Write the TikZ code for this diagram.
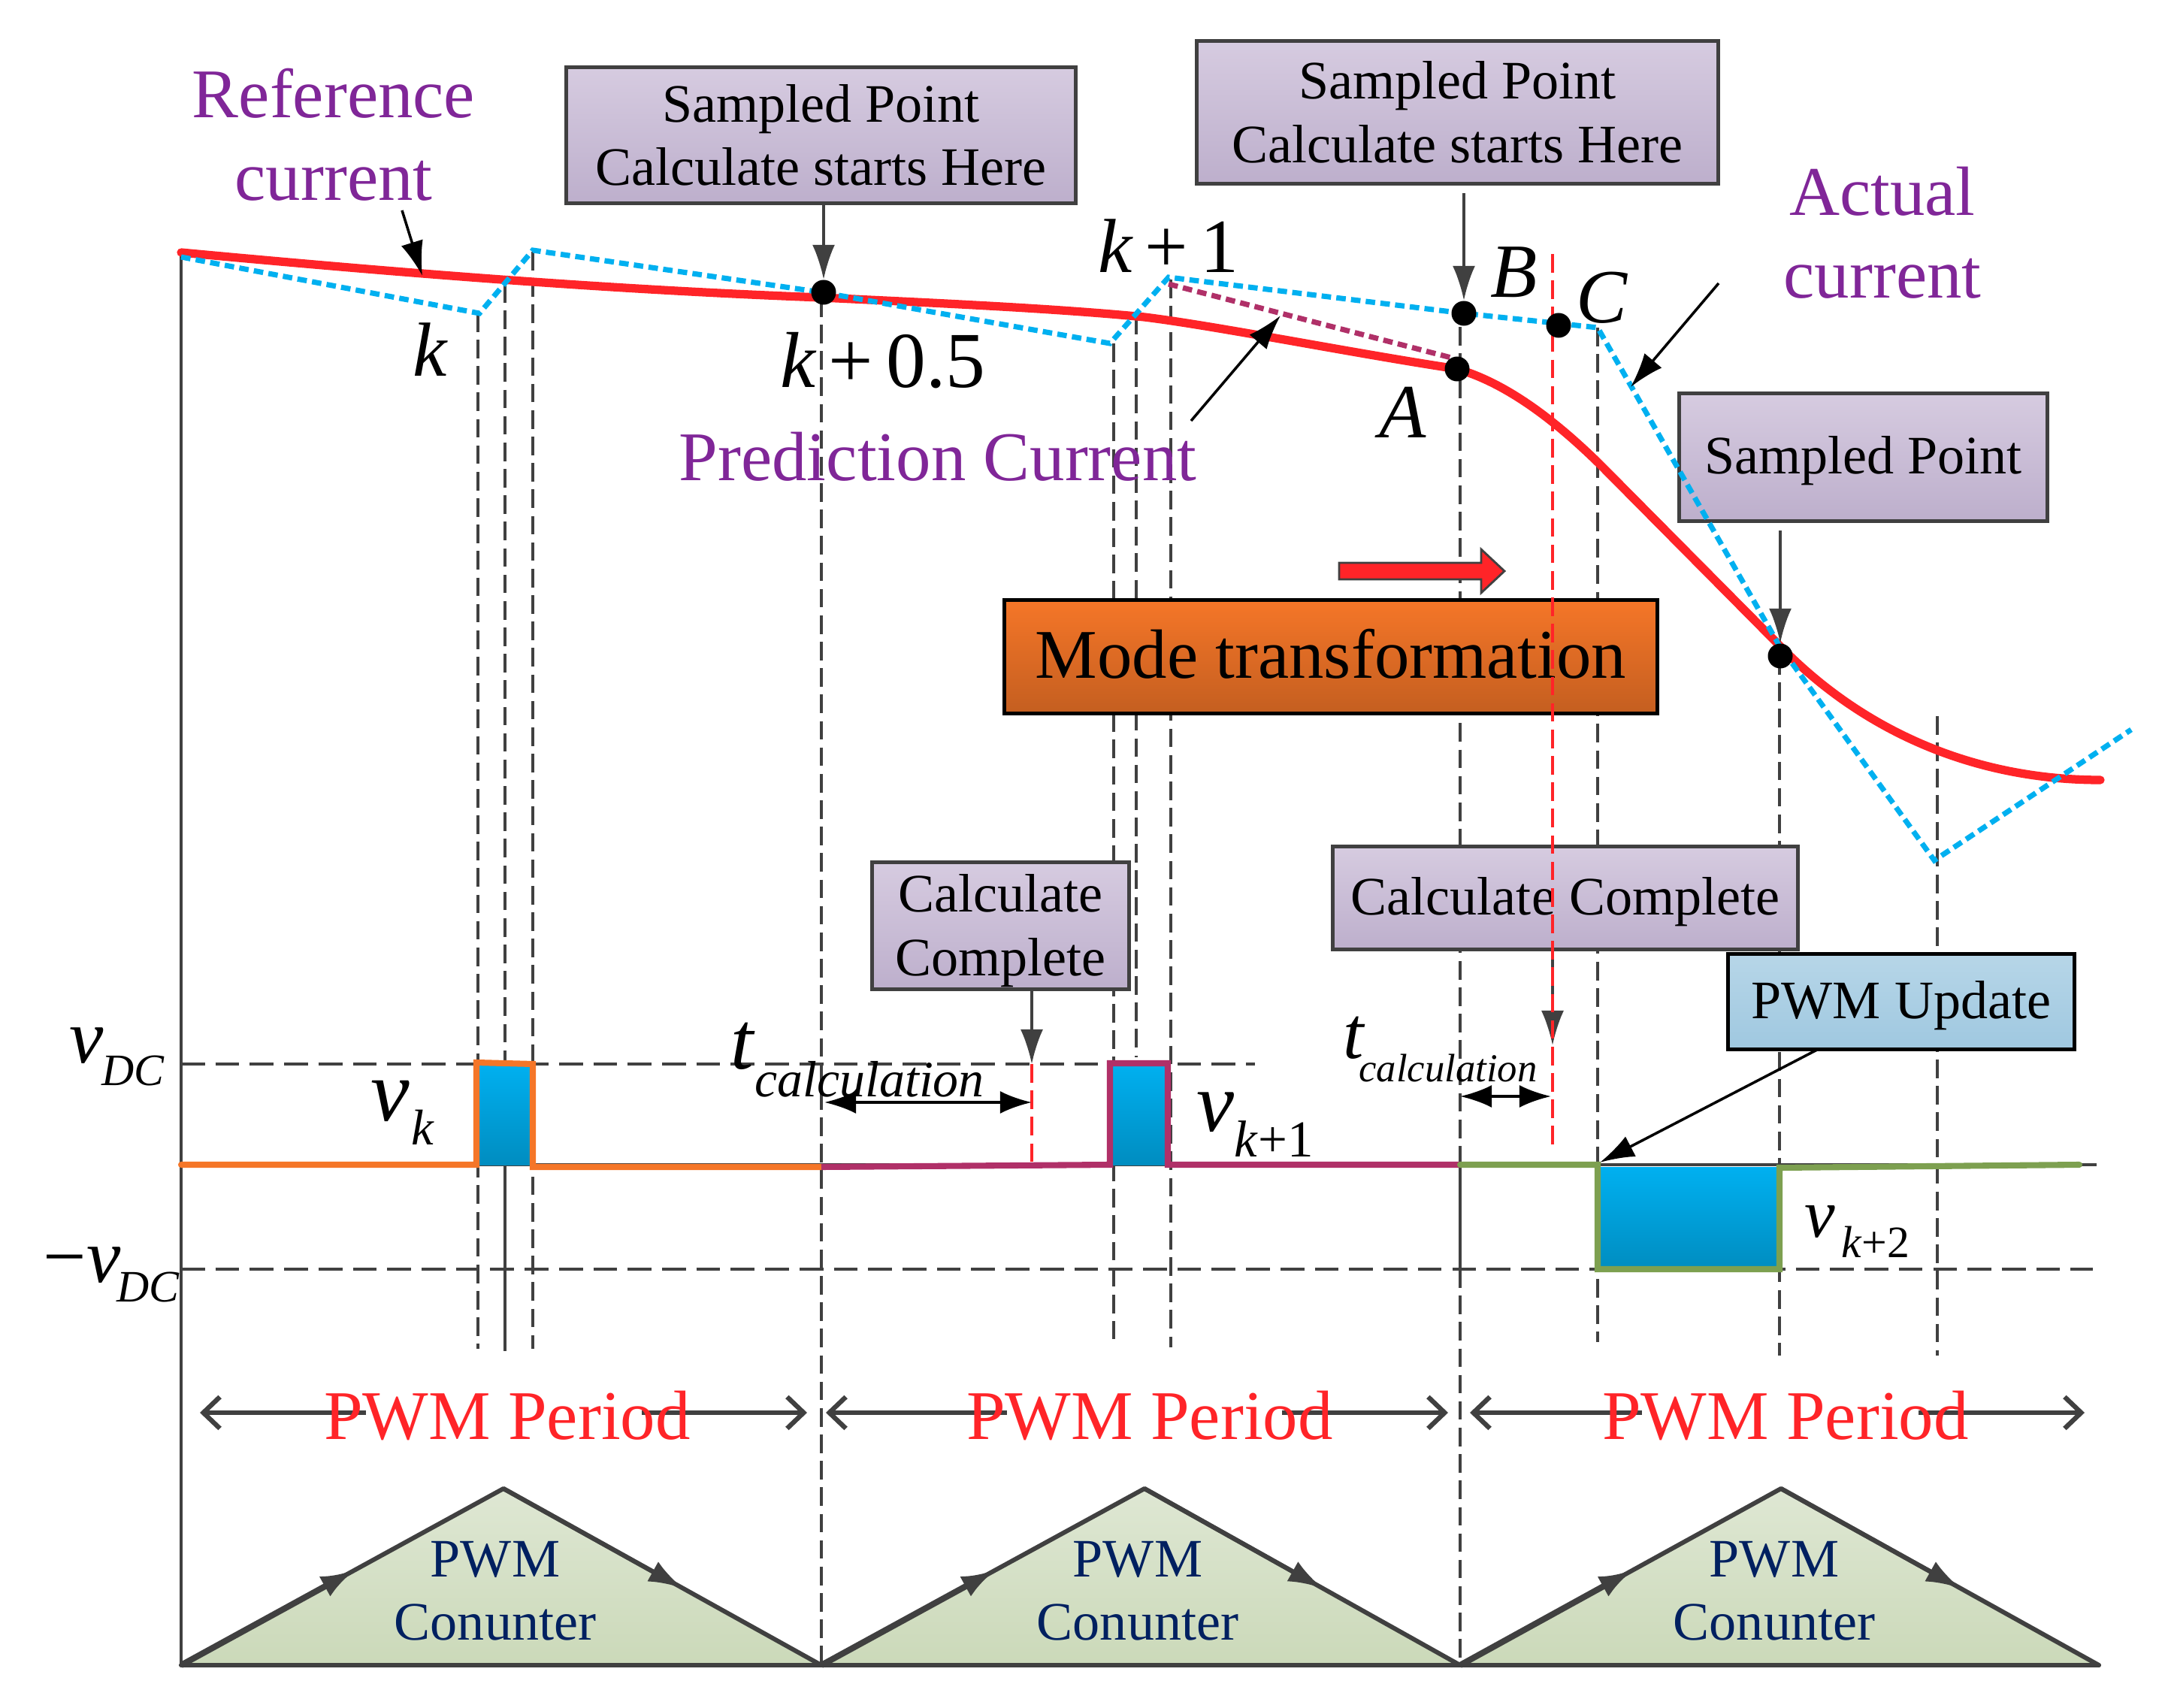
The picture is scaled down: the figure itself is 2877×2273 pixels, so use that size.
\documentclass[tikz,border=0pt]{standalone}
\usepackage{fontspec}
\setmainfont{Liberation Serif}
\usetikzlibrary{positioning,calc,arrows.meta}
\definecolor{mygray}{RGB}{64,64,64}
\definecolor{myred}{RGB}{255,36,40}
\definecolor{myblue}{RGB}{0,176,240}
\definecolor{mypurple}{RGB}{128,38,152}
\definecolor{mymagenta}{RGB}{176,48,104}
\definecolor{myorange}{RGB}{245,118,40}
\definecolor{mygreen}{RGB}{125,160,80}
\definecolor{mynavy}{RGB}{0,32,96}
\definecolor{mylilactop}{RGB}{214,203,224}
\definecolor{mylilacbot}{RGB}{189,175,204}
\definecolor{myskytop}{RGB}{183,214,232}
\definecolor{myskybot}{RGB}{159,200,224}
\newcommand{\boxfont}{\fontsize{20.5}{24}\selectfont}
\newcommand{\bigfont}{\fontsize{26.4}{31.3}\selectfont}
\newcommand{\lowstrut}[1]{\rule{0pt}{#1}}

\begin{document}
\begin{tikzpicture}[x=0.01cm,y=-0.01cm,
  guide/.style={mygray,line width=1pt,dash pattern=on 7pt off 3pt},
  levelline/.style={mygray,line width=1.1pt,dash pattern=on 9pt off 4pt},
  redguide/.style={myred,line width=1pt,dash pattern=on 7pt off 3pt},
  headtip/.style={-{Latex[length=.46cm,width=.3cm]}},
  grayarrow/.style={headtip,mygray,line width=1pt},
  blackarrow/.style={headtip,black,line width=1pt},
  spanarrow/.style={-{Straight Barb[length=.22cm,width=.42cm,line width=1.8pt]},mygray,line width=1.8pt},
  twoway/.style={{Latex[length=.42cm,width=.3cm]}-{Latex[length=.42cm,width=.3cm]},black,line width=1.2pt},
  infobox/.style={draw=mygray,line width=1.4pt,top color=mylilactop,bottom color=mylilacbot,
    font=\boxfont,align=center,inner sep=0pt},
  dotnode/.style={circle,fill=black,inner sep=0pt,minimum size=.33cm},
  purpletext/.style={text=mypurple,font=\bigfont,align=center,inner sep=0pt},
  italiclabel/.style={font=\fontsize{29}{34}\selectfont\itshape,inner sep=0pt},
  sublabel/.style={font=\fontsize{#1}{#1}\selectfont\itshape,inner sep=0pt},
  periodtext/.style={text=myred,font=\bigfont,inner sep=0pt,anchor=base},
  countertext/.style={text=mynavy,font=\boxfont,align=center,inner sep=0pt},
  pulse/.style={top color=myblue,bottom color=myblue!80!black,draw=none},
  reference/.style={myred,line width=3.2pt,line cap=round},
  actual/.style={myblue,line width=2pt,dash pattern=on 3.6pt off 2pt}
]
\useasboundingbox (0,0) rectangle (2877,2273);

% Axes
\draw[mygray,line width=1.3pt] (241,338) -- (241,2216);
\draw[mygray,line width=1.1pt] (241,1550) -- (2790,1550);
\draw[levelline] (241,1416) -- (1670,1416);
\draw[levelline] (241,1689) -- (2785,1689);

% Guides
\foreach \x/\ya/\yb in {636/417/1795,672/378/1550,709/335/1795,1093/397/2216,1482/457/1782,
    1512/420/1407,1558/372/1793,1943/435/1550,1943/1689/2216,2126/436/1786,2368/873/1804,2578/953/1804}
  \draw[guide] (\x,\ya) -- (\x,\yb);
\draw[mygray,line width=.9pt] (672,1550) -- (672,1798);
\draw[mygray,line width=.9pt] (1943,1550) -- (1943,1689);

% Pulses
\fill[pulse] (636,1416) rectangle (709,1550);
\fill[pulse] (1479,1416) rectangle (1554,1550);
\fill[pulse] (2126,1553) rectangle (2368,1689);
\draw[myorange,line width=2.3pt,line cap=round] (241,1550) -- (634,1550) -- (634,1414) -- (709,1416) -- (709,1553) -- (1093,1553);
\draw[mymagenta,line width=2.3pt] (1093,1553) -- (1477,1550) -- (1477,1415) -- (1554,1415) -- (1554,1550) -- (1943,1550);
\draw[mygreen,line width=2.3pt,line cap=round] (1943,1550) -- (2126,1550) -- (2126,1689) -- (2368,1689) -- (2368,1554) -- (2767,1550);

% Period spans
\coordinate (span1a) at (266,1880);
\coordinate (span1b) at (1074,1880);
\coordinate (span2a) at (1099,1880);
\coordinate (span2b) at (1927,1880);
\coordinate (span3a) at (1956,1880);
\coordinate (span3b) at (2774,1880);
\draw[spanarrow] (487,1880) -- (span1a);
\draw[spanarrow] (854,1880) -- (span1b);
\draw[spanarrow] (1340,1880) -- (span2a);
\draw[spanarrow] (1706,1880) -- (span2b);
\draw[spanarrow] (2185,1880) -- (span3a);
\draw[spanarrow] (2553,1880) -- (span3b);

% PWM counters
\foreach \xa/\xp/\xb/\xl/\xc in {241/670/1093/675/659,1093/1523/1943/1530/1514,1943/2370/2793/2376/2361} {
  \coordinate (start\xa) at (\xa,2216);
  \coordinate (peak\xa) at (\xp,1981);
  \coordinate (stop\xa) at (\xb,2216);
  \fill[top color=mygreen!25!white,bottom color=mygreen!40!white] (start\xa) -- (peak\xa) -- (stop\xa) -- cycle;
  \draw[mygray,line width=1.7pt,line join=round] (start\xa) -- (peak\xa) -- (stop\xa) -- cycle;
  \draw[headtip,mygray,line width=2.3pt] (start\xa) -- ($(start\xa)!.54!(peak\xa)$);
  \draw[headtip,mygray,line width=1.7pt] (peak\xa) -- ($(peak\xa)!.565!(stop\xa)$);
  \node[countertext] (count\xa) at (\xc,2117) {PWM\\Conunter};
  \node[periodtext] (period\xa) at (\xl,1915) {PWM Period};
}

% Boxes
\node[infobox,minimum width=6.77cm,minimum height=1.80cm] (sampleone) at (1092.5,180) {Sampled Point\\Calculate starts Here};
\node[infobox,minimum width=6.93cm,minimum height=1.89cm] (sampletwo) at (1939.5,149.5) {Sampled Point\\Calculate starts Here};
\node[infobox,minimum width=4.89cm,minimum height=1.69cm] (samplethree) at (2479.5,608.5) {\lowstrut{17pt}Sampled Point};
\node[infobox,minimum width=3.41cm,minimum height=1.695cm] (doneone) at (1331.5,1232) {\lowstrut{18pt}Calculate\\Complete};
\node[infobox,minimum width=6.18cm,minimum height=1.36cm] (donetwo) at (2083,1195) {\lowstrut{17pt}Calculate Complete};
\node[draw=black,line width=1.4pt,top color=myorange,bottom color=myorange!80!black,
  font=\fontsize{26.4}{30}\selectfont,text depth=2.2pt,minimum width=8.68cm,minimum height=1.50cm,inner sep=0pt] (mode) at (1771,874) {Mode transformation};
\node[draw=black,line width=1.4pt,top color=myskytop,bottom color=myskybot,
  font=\boxfont,minimum width=4.60cm,minimum height=1.27cm,inner sep=0pt] (update) at (2530,1333) {\lowstrut{17pt}PWM Update};
\draw[draw=mygray,line width=.8pt,fill=myred] (1782,749) -- (1971,749) -- (1971,731) -- (2002,760)
  -- (1971,789) -- (1971,771) -- (1782,771) -- cycle;

% Calculate complete marks
\coordinate (markone) at (1373,1416);
\coordinate (marktwo) at (2066,1391);
\draw[grayarrow] (markone |- doneone.south) -- (markone);
\draw[grayarrow] (marktwo |- donetwo.south) -- (marktwo);
\draw[redguide] (1373,1416) -- (1373,1550);
\draw[redguide] (2066,338) -- (2066,1524);

% Currents
\draw[reference] (241,336) .. controls (520,362) and (800,385) .. (1093,396)
  .. controls (1240,403) and (1400,410) .. (1523,422)
  .. controls (1620,434) and (1800,470) .. (1939,491)
  .. controls (2005,510) and (2070,560) .. (2129,618)
  -- (2367,858)
  .. controls (2480,975) and (2630,1038) .. (2795,1038);
\draw[actual] (241,342) -- (638,417) -- (709,333) -- (1093,389) -- (1477,457) -- (1555,369) -- (1948,417)
  -- (2126,436) -- (2367,858) -- (2574,1145) -- (2836,971);
\draw[mymagenta,line width=2pt,dash pattern=on 3.6pt off 2pt] (1555,378) -- (1931,476);

% Sampled points
\node[dotnode] (ptk) at (1096,389) {};
\node[dotnode] (ptA) at (1939,491) {};
\node[dotnode] (ptB) at (1948,417) {};
\node[dotnode] (ptC) at (2074,433) {};
\node[dotnode] (ptS) at (2369,873) {};
\draw[grayarrow] (ptk |- sampleone.south) -- (ptk);
\draw[grayarrow,shorten <=3pt] (ptB |- sampletwo.south) -- (ptB);
\draw[grayarrow,shorten <=3pt] (ptS |- samplethree.south) -- (ptS);

% Pointers
\coordinate (refa) at (535,280);
\coordinate (refb) at (562,367);
\coordinate (preda) at (1585,560);
\coordinate (predb) at (1704,420);
\coordinate (acta) at (2287,377);
\coordinate (actb) at (2170,515);
\coordinate (upa) at (2418,1397);
\coordinate (upb) at (2129,1547);
\draw[blackarrow] (refa) -- (refb);
\draw[blackarrow] (preda) -- (predb);
\draw[blackarrow] (acta) -- (actb);
\draw[blackarrow] (upa) -- (upb);

% Calculation times
\coordinate (calcone) at (1097,1467);
\coordinate (calctwo) at (1373,1467);
\coordinate (calcthree) at (1943,1459);
\coordinate (calcfour) at (2064,1459);
\draw[twoway] (calcone) -- (calctwo);
\draw[twoway] (calcthree) -- (calcfour);

% Labels
\node[purpletext] (reflabel) at (444,179) {Reference\\current};
\node[purpletext] (actlabel) at (2505,310) {Actual\\current};
\node[purpletext] (predlabel) at (1248,608) {Prediction Current};
\node[italiclabel] (labk) at (572,465) {k};
\node[italiclabel,font=\fontsize{30}{34}\selectfont\itshape] (labhalf) at (1175,480) {k\,\textup{+\,0.5}};
\node[italiclabel] (labone) at (1555,327) {k\,\textup{+\,1}};
\node[italiclabel] (labA) at (1867,549) {A};
\node[italiclabel] (labB) at (2015,362) {B};
\node[italiclabel] (labC) at (2131,396) {C};
\node[sublabel=29] (vdc) at (115,1392) {v};
\node[sublabel=17] (vdcsub) at (177,1425) {DC};
\node[sublabel=29] (nvdc) at (109,1684) {\textup{−}v};
\node[sublabel=17] (nvdcsub) at (197,1713) {DC};
\node[sublabel=33] (vk) at (519,1465) {v};
\node[sublabel=19] (vksub) at (562,1500) {k};
\node[sublabel=32] (vkone) at (1617,1480) {v};
\node[sublabel=19.6] (vkonesub) at (1695,1516) {k\textup{+1}};
\node[sublabel=26] (vktwo) at (2422,1626) {v};
\node[sublabel=17] (vktwosub) at (2496,1653) {k\textup{+2}};
\node[sublabel=31] (tone) at (988,1392) {t};
\node[sublabel=19.3] (tonesub) at (1157,1436) {calculation};
\node[sublabel=28] (ttwo) at (1801,1381) {t};
\node[sublabel=15] (ttwosub) at (1927,1422) {calculation};
\end{tikzpicture}
\end{document}
